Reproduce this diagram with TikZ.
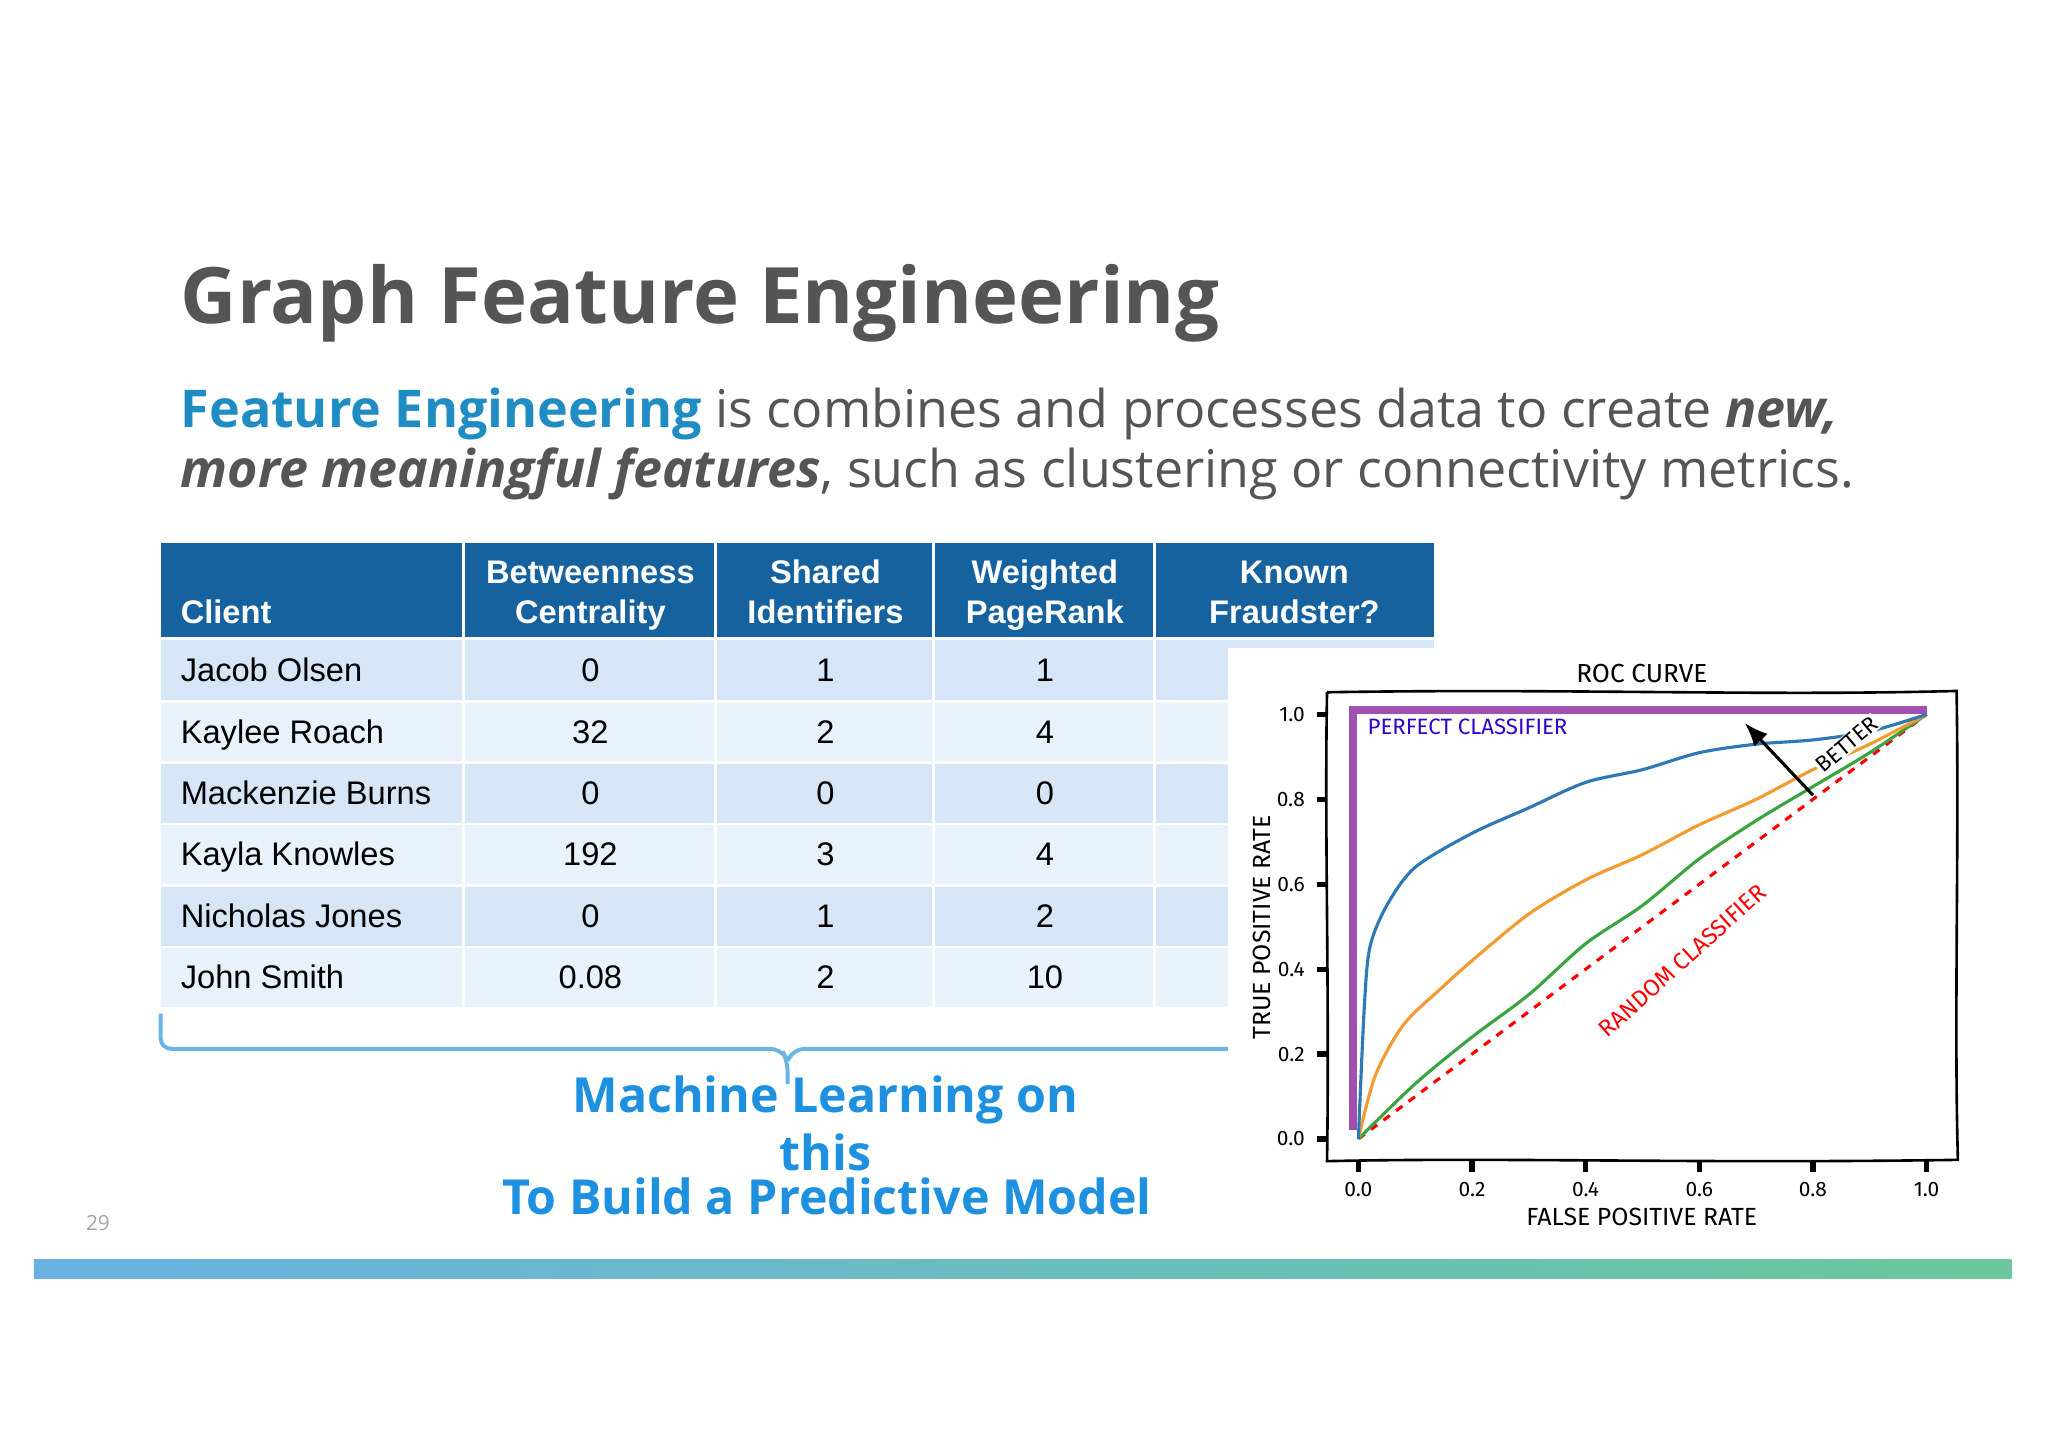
\documentclass[tikz,border=0pt]{standalone}
\usepackage{fontspec}
\setmainfont{Open Sans}
\newfontfamily\arialf{Liberation Sans}
\newfontfamily\chartf{Fira Sans}
\definecolor{ttl}{HTML}{555555}
\definecolor{fe}{HTML}{1F8CC4}
\definecolor{hdr}{HTML}{15629E}
\definecolor{rowA}{HTML}{D6E6F7}
\definecolor{rowB}{HTML}{E9F1FA}
\definecolor{mlc}{HTML}{1E90E0}
\definecolor{brc}{HTML}{6CB4E8}
\definecolor{cblue}{HTML}{2E78B6}
\definecolor{corange}{HTML}{F39A30}
\definecolor{cgreen}{HTML}{3AA540}
\definecolor{cpurp}{HTML}{A050B0}
\definecolor{gl}{HTML}{6AB0E2}
\definecolor{gr}{HTML}{6CC79C}
\usetikzlibrary{arrows.meta}
\begin{document}
\begin{tikzpicture}[x=0.5pt,y=-0.5pt,
  hd/.style={text=white,font=\arialf\bfseries\fontsize{12.5}{15}\selectfont,align=center,anchor=base},
  cell/.style={font=\arialf\fontsize{12.5}{15}\selectfont,anchor=base},
  tk/.style={font=\chartf\fontsize{8}{9}\selectfont}]
\useasboundingbox (0,0) rectangle (1568,1108.6);
\fill[white] (0,0) rectangle (1568,1108.6);
\node[anchor=base west,text=ttl,font=\bfseries\fontsize{29.8}{36}\selectfont,inner sep=0] (title) at (138,248) {Graph Feature Engineering};
\node[anchor=base west,text=ttl,font=\fontsize{19.9}{23}\selectfont,inner sep=0] (l1) at (138,327) {\textcolor{fe}{\bfseries Feature Engineering} is combines and processes data to create \textbf{\itshape new,}};
\node[anchor=base west,text=ttl,font=\fontsize{19.9}{23}\selectfont,inner sep=0] (l2) at (138,373) {\textbf{\itshape more meaningful features}, such as clustering or connectivity metrics.};
% table
\fill[hdr] (123,416) rectangle (1098,488);
\foreach \y [count=\i] in {490,537,584,631,678,725}{
  \pgfmathsetmacro\yy{\y+46}
  \ifodd\i \fill[rowA] (123,\y) rectangle (1098,\yy);
  \else \fill[rowB] (123,\y) rectangle (1098,\yy); \fi
}
\foreach \x in {355,548,715,884}{\draw[white,line width=1.2pt] (\x,416) -- (\x,773);}
\foreach \y in {489,537,584,631,678,725}{\draw[white,line width=1pt] (123,\y) -- (1098,\y);}
\node[hd,anchor=base west,inner sep=0] (h1) at (138,477) {Client};
\foreach \nm/\x/\a/\b in {h2/452/Betweenness/Centrality,h3/632/Shared/Identifiers,h4/800/Weighted/PageRank,h5/991/Known/Fraudster?}{
  \node[hd,inner sep=0] (\nm a) at (\x,447) {\a};
  \node[hd,inner sep=0] (\nm b) at (\x,477) {\b};
}
\foreach \n/\a/\b/\c [count=\i] in {Jacob Olsen/0/1/1,Kaylee Roach/32/2/4,Mackenzie Burns/0/0/0,Kayla Knowles/192/3/4,Nicholas Jones/0/1/2,John Smith/0.08/2/10}{
  \pgfmathsetmacro\yc{490+47*(\i-1)+32}
  \node[cell,anchor=base west,inner sep=0] (n\i) at (138,\yc) {\n};
  \node[cell,inner sep=0] (a\i) at (452,\yc) {\a};
  \node[cell,inner sep=0] (b\i) at (632,\yc) {\b};
  \node[cell,inner sep=0] (c\i) at (800,\yc) {\c};
}
% brace
\draw[brc,line width=1.5pt,rounded corners=4pt] (123,776) -- (123,803) -- (598,803) -- (603,812) -- (603,830);
\draw[brc,line width=1.5pt,rounded corners=4pt] (603,812) -- (608,803) -- (1000,803);
% chart cover
\fill[white] (940,496) rectangle (1515,950);
\node[text=mlc,font=\bfseries\fontsize{18.5}{22}\selectfont,align=center] (ml) at (632,860) {Machine Learning on\\this};
\node[text=mlc,font=\bfseries\fontsize{18.5}{22}\selectfont] (pm) at (633,916) {To Build a Predictive Model};
\node[text=gray!70,font=\fontsize{8}{10}\selectfont] (pg) at (75,936) {29};
\shade[left color=gl,right color=gr] (26,964) rectangle (1540,979);
% chart
\draw[black,line width=1pt] (1016,530) .. controls (1200,527) and (1350,533) .. (1498,529) .. controls (1500,650) and (1496,780) .. (1499,888) .. controls (1300,891) and (1150,886) .. (1016,889) .. controls (1018,760) and (1014,640) .. (1016,530);
\node[font=\chartf\fontsize{10}{11}\selectfont] (rt) at (1257,516) {ROC CURVE};
\node[font=\chartf\fontsize{9.5}{11}\selectfont] (xl) at (1257,932) {FALSE POSITIVE RATE};
\node[font=\chartf\fontsize{9.5}{11}\selectfont,rotate=90] (yl) at (966,710) {TRUE POSITIVE RATE};
\foreach \v/\l in {0/0.0,0.2/0.2,0.4/0.4,0.6/0.6,0.8/0.8,1/1.0}{
  \pgfmathsetmacro\px{1040+435*\v}\pgfmathsetmacro\py{872-325*\v}
  \draw[line width=2pt] (\px,889) -- (\px,897);
  \node[tk] at (\px,911) {\l};
  \draw[line width=2pt] (1008,\py) -- (1016,\py);
  \node[tk,anchor=east] at (1006,\py) {\l};
}
\begin{scope}[shift={(1040,872)},x=217.5pt,y=162.5pt]
\draw[red,dashed,line width=1.2pt] (0,0) -- (1,1);
\draw[cgreen,line width=1.2pt] plot[smooth] coordinates {(0,0)(0.1,0.13)(0.2,0.24)(0.3,0.34)(0.4,0.46)(0.5,0.55)(0.6,0.66)(0.7,0.75)(0.8,0.83)(0.9,0.91)(1,1)};
\draw[corange,line width=1.2pt] plot[smooth] coordinates {(0,0)(0.03,0.15)(0.08,0.27)(0.15,0.36)(0.2,0.42)(0.3,0.53)(0.4,0.61)(0.5,0.67)(0.6,0.74)(0.7,0.80)(0.8,0.87)(0.9,0.93)(1,1)};
\draw[cblue,line width=1.2pt] plot[smooth] coordinates {(0,0)(0.01,0.3)(0.02,0.45)(0.05,0.55)(0.1,0.64)(0.2,0.72)(0.3,0.78)(0.4,0.84)(0.5,0.87)(0.6,0.91)(0.7,0.93)(0.8,0.94)(0.9,0.96)(1,1)};
\draw[cpurp,line width=3pt] (-0.01,0.02) -- (-0.01,1.01) -- (1.0,1.01);
\node[anchor=west,text=blue!60!violet,font=\chartf\fontsize{8.5}{10}\selectfont] (pc) at (0.0,0.97) {PERFECT CLASSIFIER};
\coordinate (b0) at (0.8,0.81);
\coordinate (b1) at (0.68,0.98);
\draw[line width=1.2pt,-{Latex[length=9pt,width=7pt]}] (b0) -- (b1);
\node[rotate=40,font=\chartf\fontsize{8.5}{10}\selectfont,fill=white,inner sep=0.5pt] (bt) at (0.86,0.93) {BETTER};
\node[rotate=42,text=red,font=\chartf\fontsize{9}{10}\selectfont] (rc) at (0.57,0.42) {RANDOM CLASSIFIER};
\end{scope}
\end{tikzpicture}
\end{document}
